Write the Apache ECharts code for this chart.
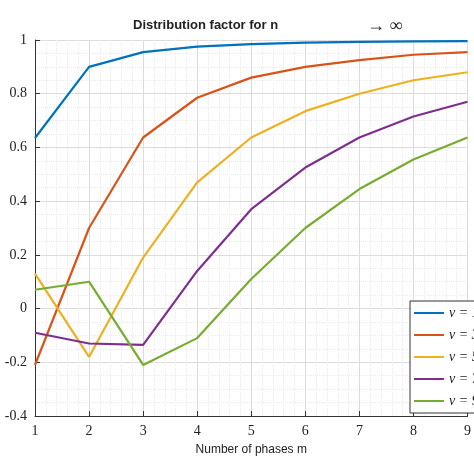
<!DOCTYPE html><html><head><meta charset="utf-8">
<script src="https://cdn.jsdelivr.net/npm/echarts@6/dist/echarts.min.js"></script>
<style>html,body{margin:0;padding:0;background:#fff}#c{width:474px;height:474px}</style></head><body><div id="c"></div>
<script>
const categories=[1,2,3,4,5,6,7,8,9];
const names=['ν = 1','ν = 3','ν = 5','ν = 7','ν = 9'];
const colors=['#0072bd','#d95319','#edb120','#7e2f8e','#77ac30'];
const s1=[0.635,0.90,0.955,0.975,0.985,0.99,0.993,0.995,0.996];
const s2=[-0.21,0.30,0.637,0.785,0.86,0.90,0.925,0.945,0.955];
const s3=[0.13,-0.18,0.19,0.47,0.637,0.735,0.80,0.85,0.88];
const s4=[-0.09,-0.13,-0.135,0.14,0.37,0.525,0.637,0.715,0.77];
const s5=[0.07,0.10,-0.21,-0.11,0.11,0.30,0.445,0.555,0.637];
const yTicks=[-0.4,-0.2,0,0.2,0.4,0.6,0.8,1];
const all=[s1,s2,s3,s4,s5];
const chart=echarts.init(document.getElementById('c'));
const serif='Liberation Serif';
chart.setOption({
 animation:false,
 title:[{text:'Distribution factor for n',left:128,top:14,textStyle:{fontSize:13,fontWeight:'bold',fontFamily:'Liberation Sans',color:'#222'}},
        {text:'→ ∞',left:362,top:12,textStyle:{fontSize:18,fontWeight:'normal',fontFamily:serif,color:'#222'}}],
 grid:{left:35,top:40,right:-42,bottom:58,containLabel:false},
 legend:{orient:'vertical',left:410,top:301,itemWidth:30,itemHeight:2,itemGap:8,backgroundColor:'#fff',borderColor:'#333',borderWidth:1,padding:[5,4,5,4],
   textStyle:{fontFamily:serif,fontStyle:'italic',fontSize:14,color:'#222'},icon:'rect',data:names},
 xAxis:{type:'value',min:1,max:9,interval:1,name:'Number of phases m',nameLocation:'middle',nameGap:28,
   nameTextStyle:{fontFamily:'Liberation Sans',fontSize:12,color:'#222'},
   axisLine:{onZero:false,lineStyle:{color:'#333'}},axisTick:{inside:true,lineStyle:{color:'#333'}},
   axisLabel:{fontFamily:serif,fontSize:14,color:'#222'},
   splitLine:{show:true,lineStyle:{color:'#dcdcdc'}},
   minorTick:{show:false,splitNumber:5},minorSplitLine:{show:true,lineStyle:{color:'#ececec',type:'dotted'}}},
 yAxis:{type:'value',min:-0.4,max:1,interval:0.2,
   axisLine:{show:true,onZero:false,lineStyle:{color:'#333'}},axisTick:{show:true,inside:true,lineStyle:{color:'#333'}},
   axisLabel:{fontFamily:serif,fontSize:14,color:'#222',formatter:v=>{const r=Math.round(v*10)/10;return yTicks.includes(r)?String(r):'';}},
   splitLine:{show:true,lineStyle:{color:'#dcdcdc'}},
   minorTick:{show:false,splitNumber:4},minorSplitLine:{show:true,lineStyle:{color:'#ececec',type:'dotted'}}},
 series:all.map((d,i)=>({name:names[i],type:'line',data:categories.map((c,j)=>[c,d[j]]),showSymbol:false,
   lineStyle:{width:2.2,color:colors[i]},itemStyle:{color:colors[i]}}))
});
</script></body></html>
